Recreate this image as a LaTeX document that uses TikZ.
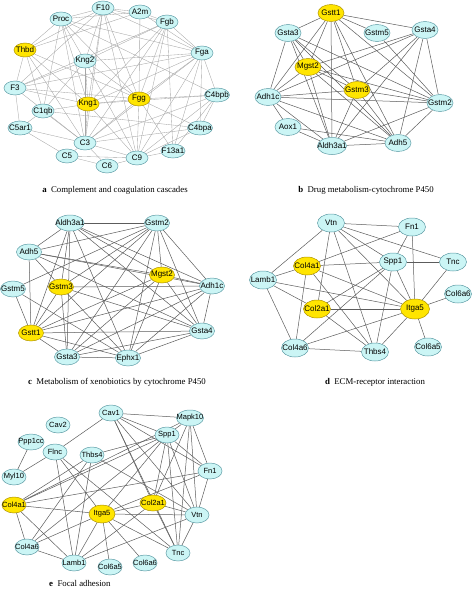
\documentclass[tikz,border=0pt]{standalone}
\usepackage{fontspec}
\setmainfont{Liberation Serif}
\setsansfont{Liberation Sans}
\usepackage{tikz}
\usetikzlibrary{
  shapes.geometric,%
  % edges go behind the ellipses
  backgrounds
}
\definecolor{genefill}{HTML}{CBF5F5}
\definecolor{genedraw}{HTML}{5F9DA6}
\definecolor{hubfill}{HTML}{FFE500}
\definecolor{hubdraw}{HTML}{B09400}
\definecolor{linkgray}{HTML}{5C5C5C}
\tikzset{gene/.style={ellipse, draw=genedraw, fill=genefill, line width=0.5pt,
    inner sep=0pt, minimum width=24pt, minimum height=15pt,
    font=\sffamily\fontsize{8}{8}\selectfont,
    execute at begin node={\hbox to 0pt\bgroup\hss},
    execute at end node={\hss\egroup}}}
\tikzset{hub/.style={gene, fill=hubfill, draw=hubdraw}}
\tikzset{link/.style={draw=linkgray, line width=0.5pt}}
\tikzset{caption/.style={font=\rmfamily\fontsize{8.8}{10}\selectfont, inner sep=0pt}}

\begin{document}
\begin{tikzpicture}[x=1pt, y=-1pt]
  \useasboundingbox (0,0) rectangle (474,589);%
  % a: complement and coagulation
  \begin{scope}[gene/.append style={minimum width=22pt, minimum height=14pt}]
    \node[gene] (aF10) at (103,8) {F10};%
    \node[gene] (aA2m) at (140,12) {A2m};%
    \node[gene] (aProc) at (61,19) {Proc};%
    \node[gene] (aFgb) at (167,22) {Fgb};%
    \node[hub] (aThbd) at (25,50) {Thbd};%
    \node[gene] (aFga) at (202,53) {Fga};%
    \node[gene] (aKng2) at (85,61) {Kng2};%
    \node[gene] (aF3) at (15,88) {F3};%
    \node[hub] (aFgg) at (139,99) {Fgg};%
    \node[gene, minimum width=25pt] (aC4bpb) at (217,95) {C4bpb};%
    \node[hub] (aKng1) at (88,104) {Kng1};%
    \node[gene] (aC1qb) at (43,111) {C1qb};%
    \node[gene, minimum width=24pt] (aC5ar1) at (20,128) {C5ar1};%
    \node[gene, minimum width=25pt] (aC4bpa) at (200,128) {C4bpa};%
    \node[gene] (aC3) at (85,143) {C3};%
    \node[gene, minimum width=24pt] (aF13a1) at (173,151) {F13a1};%
    \node[gene] (aC5) at (67,156) {C5};%
    \node[gene] (aC9) at (137,158) {C9};%
    \node[gene] (aC6) at (107,166) {C6};%
  \end{scope}
  \begin{scope}[on background layer]
    \foreach \s/\t in {F10/A2m, F10/Proc, F10/Fgb, F10/Kng2, F10/Kng1, F10/F3,
        F10/Fga, F10/C3, F10/Fgg, F10/C9, F10/Thbd,
        Proc/Thbd, Proc/Kng2, Proc/Fga, Proc/Fgg, Proc/C3, Proc/C1qb, Proc/Kng1,
        Proc/A2m, Proc/C4bpb,
        A2m/Fgb, A2m/Fgg, A2m/Fga, A2m/Thbd,
        Fgb/Fga, Fgb/Kng2, Fgb/Fgg, Fgb/C3, Fgb/C9, Fgb/F13a1, Fgb/Kng1, Fgb/F3,
        Fga/C4bpb, Fga/C4bpa, Fga/F13a1, Fga/C9, Fga/C3, Fga/Kng2, Fga/Kng1,
        Fga/Fgg, Fga/F3,
        Thbd/F3, Thbd/Fgg, Thbd/Kng1, Thbd/C3, Thbd/C1qb,
        F3/C5ar1, F3/Kng2, F3/Fgg, F3/Kng1, F3/C3,
        Kng2/Kng1, Kng2/C3, Kng2/C1qb, Kng2/Fgg, Kng2/C9,
        Kng1/C3, Kng1/C4bpb, Kng1/Fgg, Kng1/C9, Kng1/C1qb,
        C1qb/C3, C1qb/C4bpa, C1qb/C5ar1, C5ar1/C3, C5ar1/C5,
        C3/C5, C3/C6, C3/C9, C3/C4bpa, C3/C4bpb, C3/Fgg,
        C5/C6, C5/C9, C6/C9, C9/C4bpa, C9/C4bpb, C9/Fgg, C9/F13a1,
        F13a1/Fgg, F13a1/C4bpb, C4bpb/C4bpa, C4bpb/Fgg, C4bpa/Fgg}
      \draw[link, draw=gray!70, line width=0.35pt] (a\s) -- (a\t);%
  \end{scope}
  \node[caption] (capa) at (115,190) {\textbf{a}\enspace Complement and coagulation cascades};%

  % b: drug metabolism
  \begin{scope}[gene/.append style={minimum width=26pt, minimum height=17pt}]
    \node[hub] (bGstt1) at (331,13) {Gstt1};%
    \node[gene] (bGsta3) at (288,33) {Gsta3};%
    \node[gene] (bGstm5) at (377,33) {Gstm5};%
    \node[gene] (bGsta4) at (425,30) {Gsta4};%
    \node[hub] (bMgst2) at (308,67) {Mgst2};%
    \node[hub] (bGstm3) at (357,90) {Gstm3};%
    \node[gene] (bAdh1c) at (268,97) {Adh1c};%
    \node[gene] (bGstm2) at (440,103) {Gstm2};%
    \node[gene] (bAox1) at (288,127) {Aox1};%
    \node[gene, minimum width=29pt] (bAldh3a1) at (332,146) {Aldh3a1};%
    \node[gene] (bAdh5) at (398,143) {Adh5};%
  \end{scope}
  \begin{scope}[on background layer]
    \foreach \s/\t in {Gstt1/Gsta3, Gstt1/Gstm5, Gstt1/Gsta4, Gstt1/Mgst2,
        Gstt1/Gstm3, Gstt1/Adh1c, Gstt1/Aldh3a1, Gstt1/Adh5, Gstt1/Gstm2,
        Gsta3/Adh1c, Gsta3/Gstm3, Gsta3/Gstm2, Gsta3/Aldh3a1, Gsta3/Adh5,
        Gsta3/Mgst2, Gstm5/Gstm2,
        Gsta4/Mgst2, Gsta4/Adh1c, Gsta4/Gstm3, Gsta4/Gstm2, Gsta4/Aldh3a1,
        Gsta4/Adh5,
        Mgst2/Adh1c, Mgst2/Gstm3, Mgst2/Gstm2, Mgst2/Aldh3a1, Mgst2/Adh5,
        Gstm3/Adh1c, Gstm3/Gstm2, Gstm3/Aldh3a1, Gstm3/Adh5,
        Adh1c/Gstm2, Adh1c/Aox1, Adh1c/Aldh3a1, Adh1c/Adh5,
        Aox1/Aldh3a1, Aox1/Adh5, Aldh3a1/Adh5, Aldh3a1/Gstm2, Adh5/Gstm2}
      \draw[link] (b\s) -- (b\t);%
  \end{scope}
  \node[caption] (capb) at (366,190) {\textbf{b}\enspace Drug metabolism-cytochrome P450};%

  % c: xenobiotics
  \begin{scope}[gene/.append style={minimum width=25pt, minimum height=16pt}]
    \node[gene, minimum width=28pt] (cAldh3a1) at (70,223) {Aldh3a1};%
    \node[gene] (cGstm2) at (157,223) {Gstm2};%
    \node[gene] (cAdh5) at (29,252) {Adh5};%
    \node[hub] (cMgst2) at (162,275) {Mgst2};%
    \node[gene] (cGstm5) at (13,289) {Gstm5};%
    \node[hub] (cGstm3) at (61,287) {Gstm3};%
    \node[gene] (cAdh1c) at (212,286) {Adh1c};%
    \node[hub] (cGstt1) at (31,333) {Gstt1};%
    \node[gene] (cGsta4) at (202,331) {Gsta4};%
    \node[gene] (cGsta3) at (67,357) {Gsta3};%
    \node[gene] (cEphx1) at (128,358) {Ephx1};%
  \end{scope}
  \begin{scope}[on background layer]
    \foreach \s/\t in {Aldh3a1/Gstm2, Aldh3a1/Adh5, Aldh3a1/Gstm3, Aldh3a1/Gstt1,
        Aldh3a1/Mgst2, Aldh3a1/Adh1c, Aldh3a1/Gsta4, Aldh3a1/Ephx1, Aldh3a1/Gsta3,
        Gstm2/Adh5, Gstm2/Gstm5, Gstm2/Gstm3, Gstm2/Mgst2, Gstm2/Adh1c,
        Gstm2/Gsta4, Gstm2/Ephx1, Gstm2/Gsta3, Gstm2/Gstt1,
        Adh5/Gstm3, Adh5/Gstt1, Adh5/Mgst2, Adh5/Adh1c, Adh5/Gsta4,
        Gstm5/Gstt1, Gstm5/Ephx1,
        Gstm3/Gstt1, Gstm3/Adh1c, Gstm3/Gsta3, Gstm3/Ephx1, Gstm3/Gsta4,
        Mgst2/Gstt1, Mgst2/Adh1c, Mgst2/Gsta4, Mgst2/Ephx1, Mgst2/Gsta3,
        Adh1c/Gstt1, Adh1c/Gsta4, Adh1c/Ephx1, Adh1c/Gsta3,
        Gstt1/Gsta4, Gstt1/Gsta3, Gstt1/Ephx1,
        Gsta4/Ephx1, Gsta4/Gsta3, Gsta3/Ephx1}
      \draw[link] (c\s) -- (c\t);%
  \end{scope}
  \node[caption] (capc) at (117,382) {\textbf{c}\enspace Metabolism of xenobiotics by cytochrome P450};%

  % d: ECM-receptor
  \begin{scope}[gene/.append style={minimum width=27pt, minimum height=18pt}]
    \node[gene] (dVtn) at (331,223) {Vtn};%
    \node[gene] (dFn1) at (412,227) {Fn1};%
    \node[hub] (dCol4a1) at (307,266) {Col4a1};%
    \node[gene] (dSpp1) at (393,262) {Spp1};%
    \node[gene] (dTnc) at (453,262) {Tnc};%
    \node[gene] (dLamb1) at (263,280) {Lamb1};%
    \node[gene] (dCol6a6) at (458,294) {Col6a6};%
    \node[hub] (dCol2a1) at (317,309) {Col2a1};%
    \node[hub, minimum width=29pt, minimum height=20pt] (dItga5) at (415,309) {Itga5};%
    \node[gene] (dCol4a6) at (295,348) {Col4a6};%
    \node[gene] (dThbs4) at (375,352) {Thbs4};%
    \node[gene] (dCol6a5) at (428,347) {Col6a5};%
  \end{scope}
  \begin{scope}[on background layer]
    \foreach \s/\t in {Vtn/Fn1, Vtn/Lamb1, Vtn/Spp1, Vtn/Tnc, Vtn/Col2a1,
        Vtn/Itga5, Vtn/Thbs4,
        Fn1/Col4a1, Fn1/Spp1, Fn1/Itga5,
        Col4a1/Spp1, Col4a1/Lamb1, Col4a1/Itga5, Col4a1/Thbs4, Col4a1/Col4a6,
        Spp1/Tnc, Spp1/Itga5, Spp1/Thbs4, Spp1/Col4a6, Spp1/Col2a1,
        Tnc/Itga5, Lamb1/Col2a1, Lamb1/Itga5, Lamb1/Col4a6, Col6a6/Itga5,
        Col2a1/Itga5, Col2a1/Thbs4,
        Itga5/Col4a6, Itga5/Thbs4, Itga5/Col6a5, Col4a6/Thbs4}
      \draw[link] (d\s) -- (d\t);%
  \end{scope}
  \node[caption] (capd) at (375,382) {\textbf{d}\enspace ECM-receptor interaction};%

  % e: focal adhesion
  \begin{scope}[gene/.append style={minimum width=24pt, minimum height=16pt,
      font=\sffamily\fontsize{7.5}{7.5}\selectfont}]
    \node[gene] (eCav1) at (111,413) {Cav1};%
    \node[gene, minimum width=27pt] (eMapk10) at (190,418) {Mapk10};%
    \node[gene] (eCav2) at (58,425) {Cav2};%
    \node[gene] (eSpp1) at (167,435) {Spp1};%
    \node[gene, minimum width=26pt] (ePpp1cc) at (31,442) {Ppp1cc};%
    \node[gene] (eFlnc) at (55,452) {Flnc};%
    \node[gene] (eThbs4) at (92,455) {Thbs4};%
    \node[gene] (eFn1) at (210,471) {Fn1};%
    \node[gene] (eMyl10) at (14,477) {Myl10};%
    \node[hub] (eCol4a1) at (14,505) {Col4a1};%
    \node[hub, minimum width=26pt] (eCol2a1) at (153,503) {Col2a1};%
    \node[hub, minimum width=26pt, minimum height=18pt] (eItga5) at (102,514) {Itga5};%
    \node[gene] (eVtn) at (197,515) {Vtn};%
    \node[gene] (eCol4a6) at (27,547) {Col4a6};%
    \node[gene] (eTnc) at (178,553) {Tnc};%
    \node[gene] (eLamb1) at (74,563) {Lamb1};%
    \node[gene] (eCol6a5) at (110,567) {Col6a5};%
    \node[gene] (eCol6a6) at (145,563) {Col6a6};%
  \end{scope}
  \begin{scope}[on background layer]
    \foreach \s/\t in {Cav1/Mapk10, Cav1/Flnc, Cav1/Spp1, Cav1/Vtn, Cav1/Tnc,
        Cav1/Fn1, Cav1/Col2a1, Ppp1cc/Myl10, Myl10/Flnc,
        Flnc/Lamb1, Flnc/Itga5, Flnc/Tnc,
        Thbs4/Col4a1, Thbs4/Col4a6, Thbs4/Vtn, Thbs4/Spp1, Thbs4/Lamb1,
        Spp1/Mapk10, Spp1/Col4a1, Spp1/Itga5, Spp1/Col2a1, Spp1/Fn1, Spp1/Vtn,
        Spp1/Tnc, Spp1/Col4a6,
        Mapk10/Col4a1, Mapk10/Col2a1, Mapk10/Fn1, Mapk10/Vtn, Mapk10/Tnc,
        Fn1/Col4a1, Fn1/Itga5, Fn1/Vtn,
        Col4a1/Itga5, Col4a1/Col4a6, Col4a1/Lamb1,
        Col2a1/Itga5, Col2a1/Vtn, Col2a1/Lamb1, Col2a1/Tnc,
        Itga5/Vtn, Itga5/Lamb1, Itga5/Col4a6, Itga5/Col6a5, Itga5/Col6a6,
        Itga5/Tnc, Vtn/Tnc, Vtn/Lamb1, Col4a6/Lamb1}
      \draw[link] (e\s) -- (e\t);%
  \end{scope}
  \node[caption, anchor=west] (cape) at (49,583) {\textbf{e}\enspace Focal adhesion};%
\end{tikzpicture}
\end{document}
